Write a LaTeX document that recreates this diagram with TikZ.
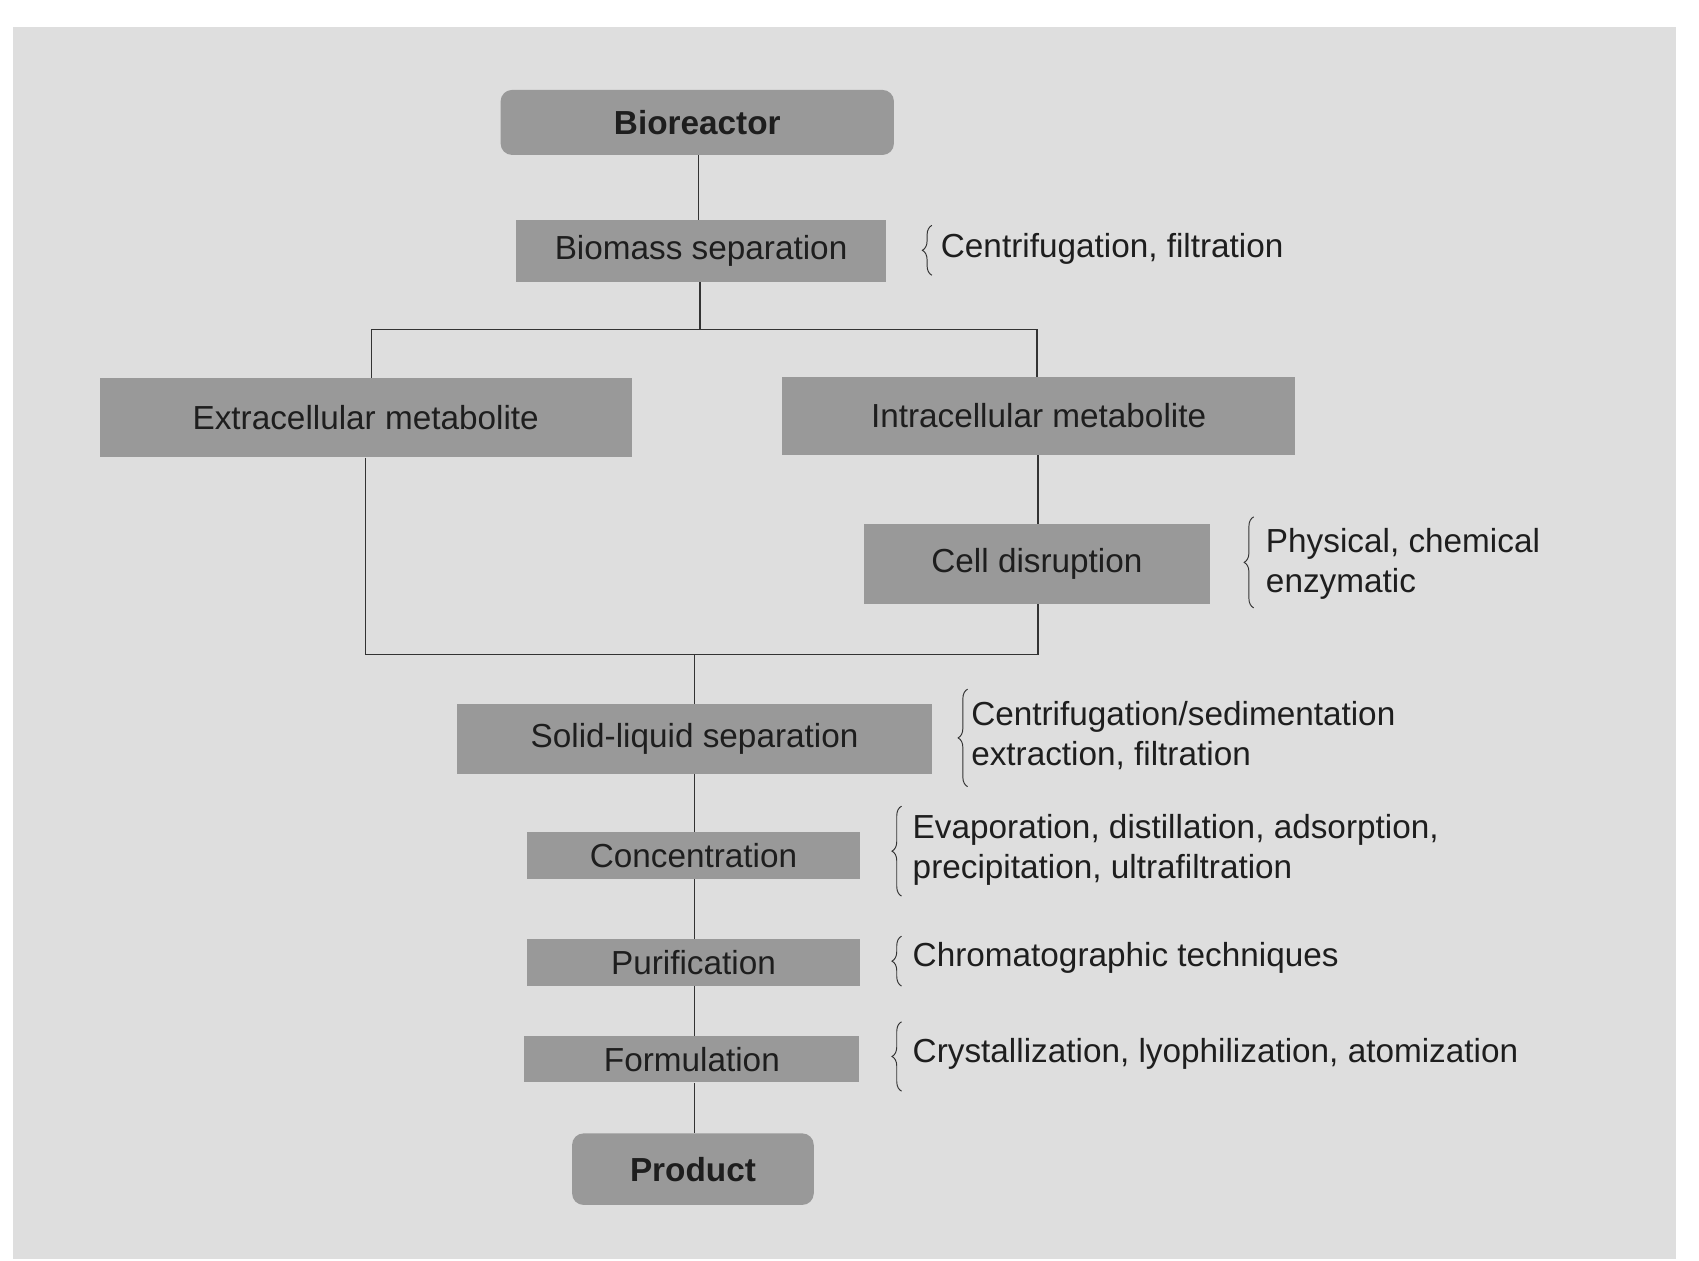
\documentclass[tikz,border=0pt]{standalone}
\usepackage{fontspec}
\setmainfont{Liberation Sans}
\usetikzlibrary{decorations.pathreplacing}
\definecolor{bg}{RGB}{222,222,222}
\definecolor{boxc}{RGB}{153,153,153}
\definecolor{txt}{RGB}{30,30,30}
\begin{document}
\begin{tikzpicture}[x=0.02cm,y=-0.02cm,
  box/.style={fill=boxc,draw=none,inner sep=0,text=txt,font=\fontsize{17.5}{21}\selectfont},
  rbox/.style={box,rounded corners=6pt,font=\fontsize{17.5}{21}\selectfont\bfseries},
  ln/.style={draw=black!80,line width=0.6pt},
  br/.style={draw=black!80,line width=0.5pt,decorate,decoration={brace,amplitude=5pt,mirror,raise=0pt}},
  note/.style={anchor=west,text=txt,font=\fontsize{17.5}{21}\selectfont,align=left,inner sep=0}]
\useasboundingbox (0,0) rectangle (1568,1163);
\fill[white] (0,0) rectangle (1568,1163);
\fill[bg] (12,25) rectangle (1547,1162);
\node[rbox,minimum width=363*0.02cm,minimum height=60*0.02cm] (bio) at (643.5,113) {Bioreactor};
\node[box,minimum width=342*0.02cm,minimum height=57*0.02cm] (bms) at (647,231.5) {Biomass separation};
\node[box,minimum width=491*0.02cm,minimum height=73*0.02cm] (ext) at (337.5,385.5) {Extracellular metabolite};
\node[box,minimum width=473*0.02cm,minimum height=72*0.02cm] (int) at (958.5,384) {Intracellular metabolite};
\node[box,minimum width=320*0.02cm,minimum height=73*0.02cm] (cell) at (957,520.5) {Cell disruption};
\node[box,minimum width=438*0.02cm,minimum height=64*0.02cm] (sls) at (641,682) {Solid-liquid separation};
\node[box,minimum width=308*0.02cm,minimum height=43*0.02cm] (conc) at (640,789.5) {Concentration};
\node[box,minimum width=308*0.02cm,minimum height=43*0.02cm] (pur) at (640,888.5) {Purification};
\node[box,minimum width=309*0.02cm,minimum height=43*0.02cm] (form) at (638.5,977.5) {Formulation};
\node[rbox,minimum width=223*0.02cm,minimum height=66*0.02cm] (prod) at (639.5,1079) {Product};
\coordinate (s1) at (646,304);
\coordinate (s1l) at (343,304);
\coordinate (s1r) at (957,304);
\coordinate (j2) at (641,604);
\draw[ln] (bio.south -| 645,0) -- (bms.north -| 645,0);
\draw[ln] (bms.south -| s1) -- (s1);
\draw[ln] (s1l) -- (s1r);
\draw[ln] (s1l) -- (ext.north -| s1l);
\draw[ln] (s1r) -- (int.north -| s1r);
\draw[ln] (ext.south -| 337,0) -- (337,604) -- (958,604) -- (cell.south -| 958,0);
\draw[ln] (int.south -| 958,0) -- (cell.north -| 958,0);
\draw[ln] (j2) -- (sls.north -| j2);
\draw[ln] (sls.south -| 641,0) -- (conc.north -| 641,0);
\draw[ln] (conc.south -| 641,0) -- (pur.north -| 641,0);
\draw[ln] (pur.south -| 641,0) -- (form.north -| 641,0);
\draw[ln] (form.south -| 641,0) -- (prod.north -| 641,0);
\draw[br] (860,208) -- (860,254);
\node[note] (n1) at (868,230) {Centrifugation, filtration};
\draw[br] (1157,477) -- (1157,561);
\node[note] (n2) at (1168,520) {Physical, chemical\\enzymatic};
\draw[br] (893,636) -- (893,726);
\node[note] (n3) at (896,679) {Centrifugation/sedimentation\\extraction, filtration};
\draw[br] (832,744) -- (832,827);
\node[note] (n4) at (842,784) {Evaporation, distillation, adsorption,\\precipitation, ultrafiltration};
\draw[br] (832,864) -- (832,910);
\node[note] (n5) at (842,884) {Chromatographic techniques};
\draw[br] (832,943) -- (832,1007);
\node[note] (n6) at (842,973) {Crystallization, lyophilization, atomization};
\end{tikzpicture}
\end{document}
